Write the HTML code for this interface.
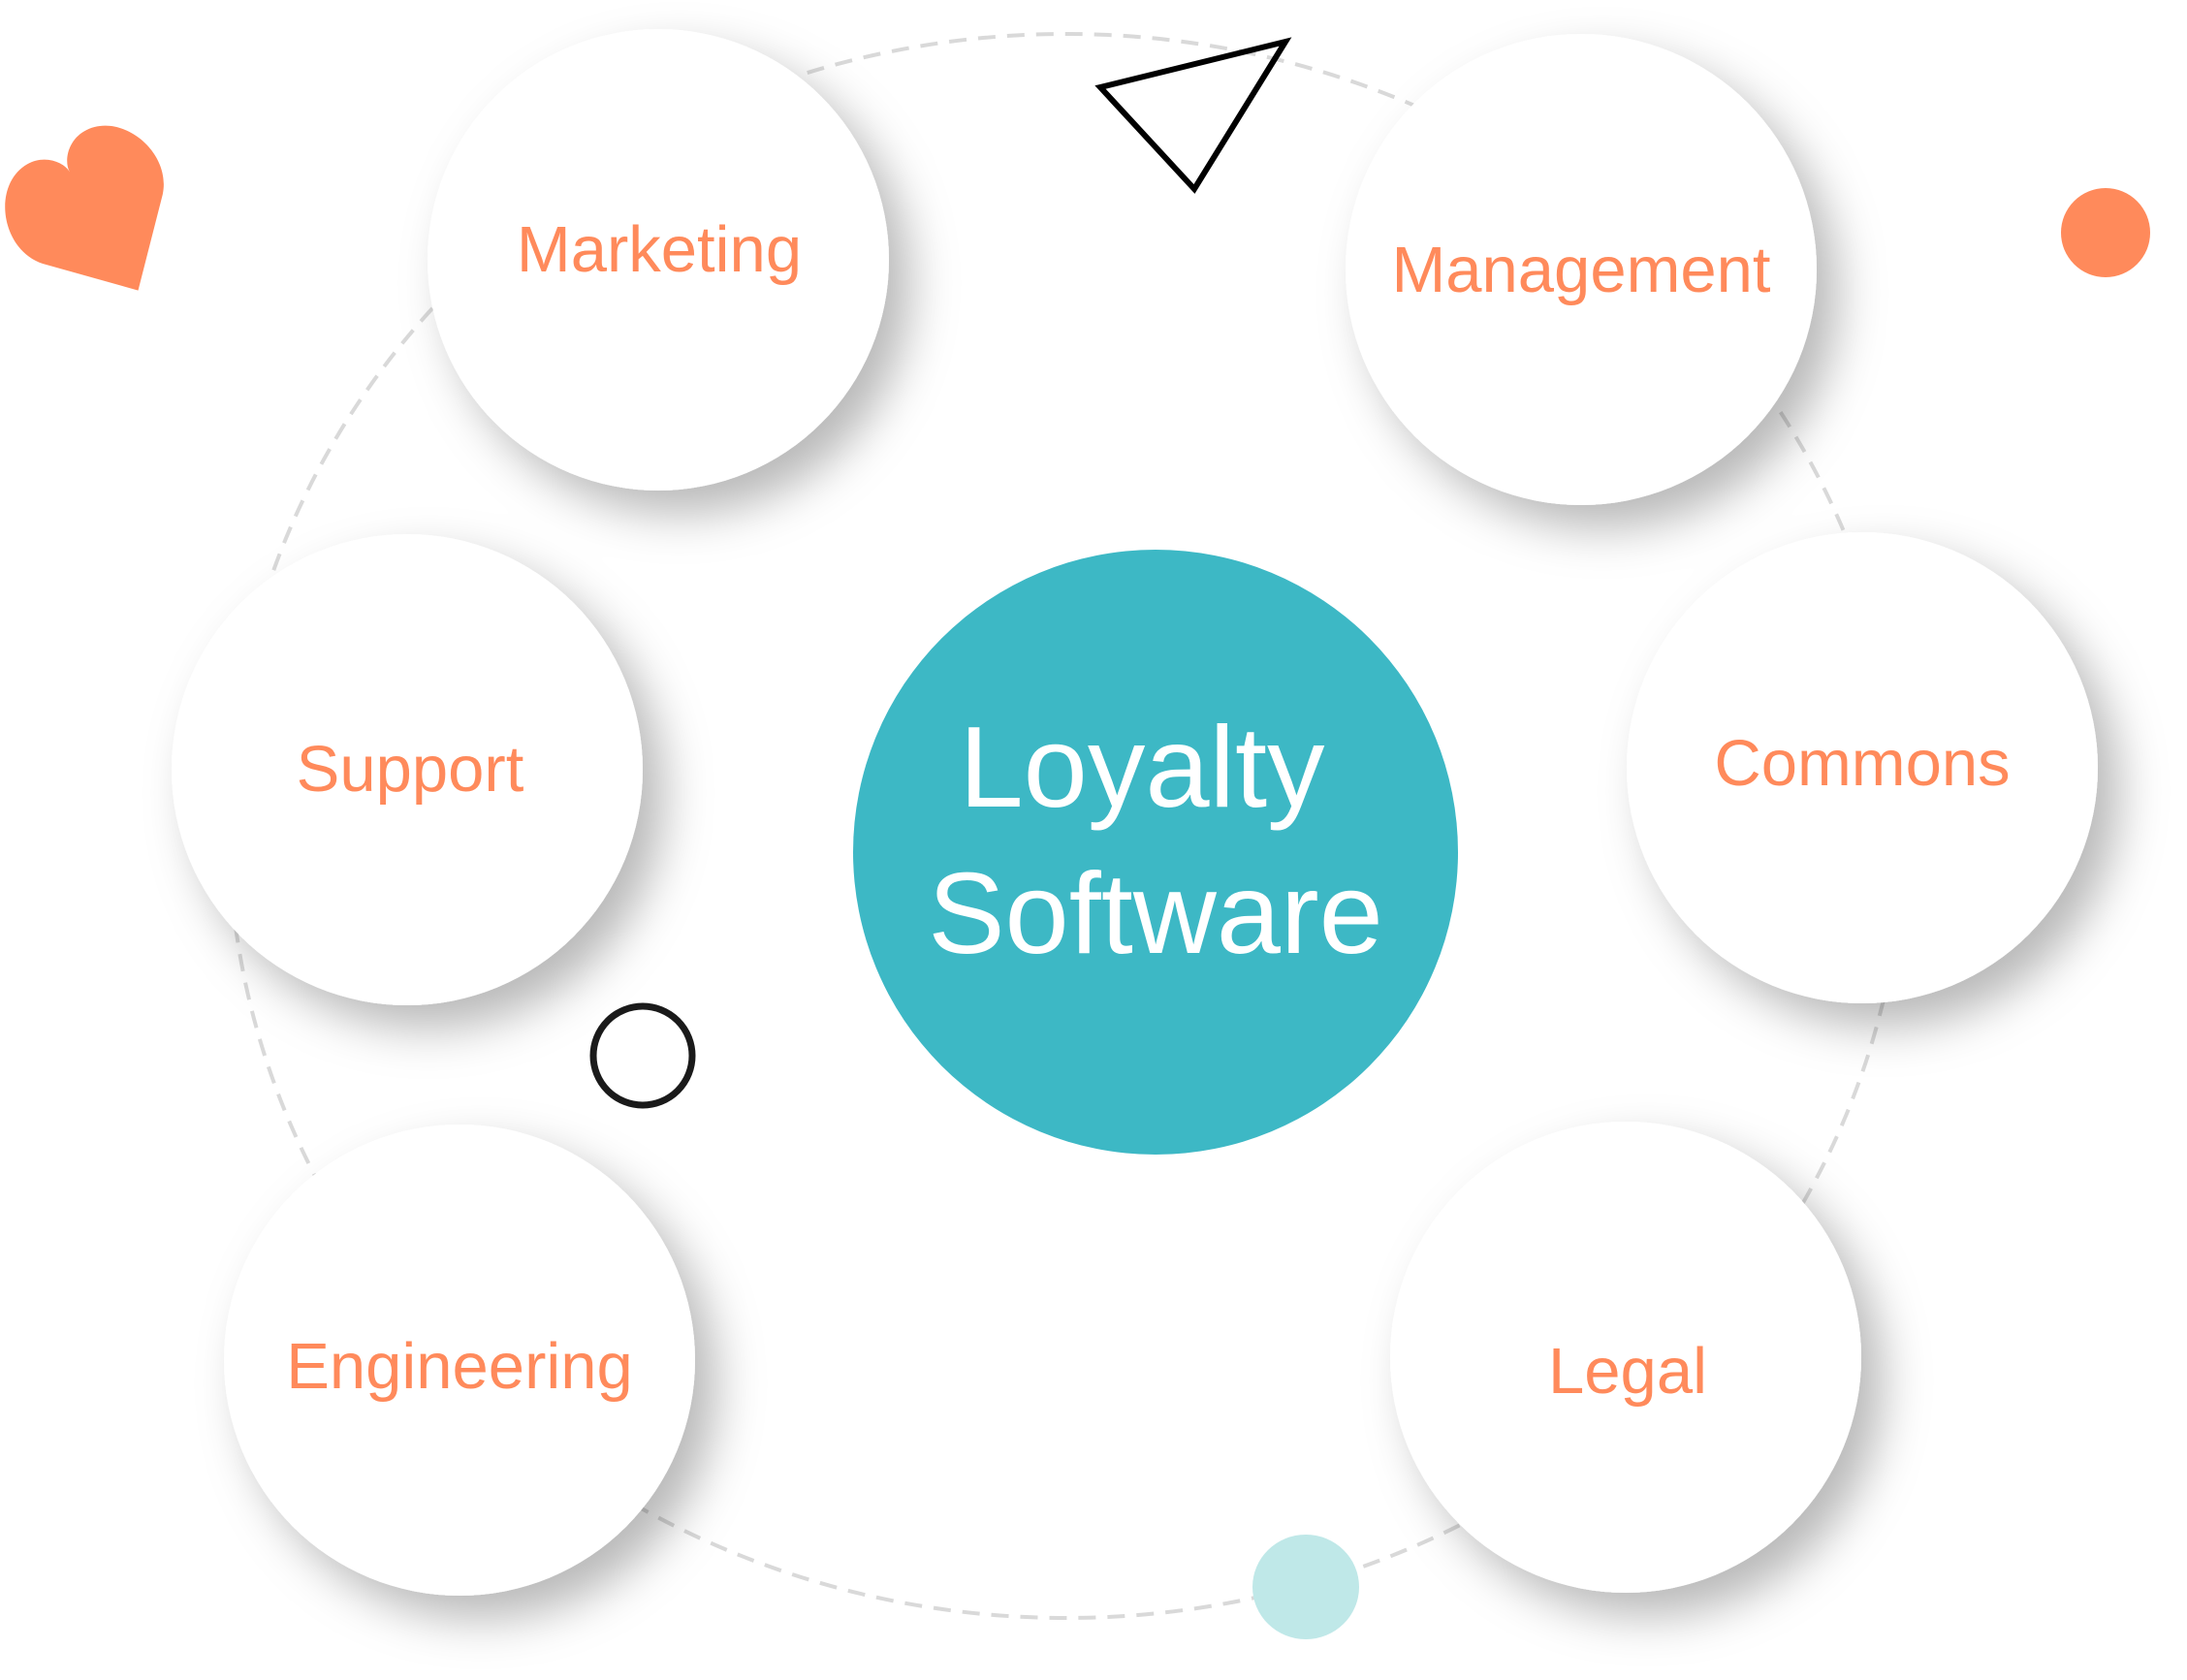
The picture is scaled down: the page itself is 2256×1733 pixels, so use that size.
<!DOCTYPE html>
<html><head><meta charset="utf-8"><style>
html,body{margin:0;padding:0;background:#fff;}
svg{display:block;}
text{font-family:"Liberation Sans",sans-serif;}
</style></head><body>
<svg width="2256" height="1733" viewBox="0 0 2256 1733" xmlns="http://www.w3.org/2000/svg">
<defs>
<filter id="sh" x="-40%" y="-40%" width="180%" height="180%">
<feDropShadow dx="22" dy="24" stdDeviation="24" flood-color="#000" flood-opacity="0.28"/>
</filter>
</defs>
<ellipse cx="1100" cy="852" rx="864" ry="817" fill="none" stroke="#d9d9d9" stroke-width="4" stroke-dasharray="18 12"/>
<g transform="translate(100,226) rotate(-30) scale(1.7) translate(-50,-55)">
<path d="M50,105 L8,62 C-10,42 5,5 30,5 C42,5 50,15 50,22 C50,15 58,5 70,5 C95,5 110,42 92,62 Z" fill="#FF8A5B"/>
</g>
<circle cx="2172" cy="240" r="46" fill="#FF8A5B"/>
<polygon points="1135,90 1326,43 1232,195" fill="none" stroke="#000" stroke-width="6" stroke-linejoin="miter"/>
<g filter="url(#sh)" fill="#fff">
<circle cx="679" cy="268" r="238"/>
<circle cx="1631" cy="278" r="243"/>
<circle cx="420" cy="794" r="243"/>
<circle cx="1921" cy="792" r="243"/>
<circle cx="474" cy="1403" r="243"/>
<circle cx="1677" cy="1400" r="243"/>
</g>
<circle cx="1192" cy="879" r="312" fill="#3DB8C5"/>
<circle cx="663" cy="1089" r="51" fill="none" stroke="#1a1a1a" stroke-width="7"/>
<ellipse cx="1347" cy="1637" rx="55" ry="54" fill="#BFE8E8"/>
<g fill="#FF8A5B" font-size="67" text-anchor="middle">
<text x="680" y="280">Marketing</text>
<text x="1631" y="301">Management</text>
<text x="423" y="816">Support</text>
<text x="1921" y="810">Commons</text>
<text x="474" y="1432">Engineering</text>
<text x="1679" y="1437">Legal</text>
</g>
<g fill="#fff" font-size="119" text-anchor="middle">
<text x="1178" y="832">Loyalty</text>
<text x="1192" y="983">Software</text>
</g>
</svg>
</body></html>
